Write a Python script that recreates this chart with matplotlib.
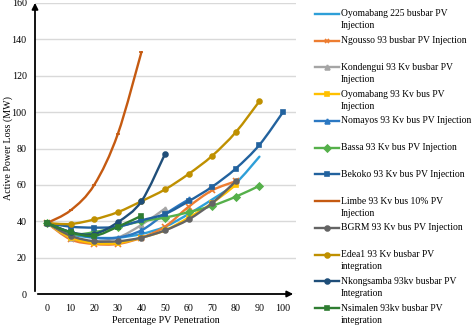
import numpy as np
import matplotlib
matplotlib.use('Agg')
import matplotlib.pyplot as plt
from matplotlib.path import Path
from matplotlib.patches import PathPatch
from matplotlib.lines import Line2D

plt.rcParams['font.family'] = ['Liberation Serif', 'DejaVu Serif']

# PV penetration levels (%)
pen = [0, 10, 20, 30, 40, 50, 60, 70, 80, 90, 100]

# active power loss (MW) per injection bus
oyomabang_225 = [39, 33, 31, 31, 33, 37, 44, 52, 61, 75.5]
ngousso = [39, 30, 27.5, 27.5, 31, 37, 48, 57, 62]
kondengui = [39, 31, 29, 31, 38, 47]
oyomabang_93 = [39, 31, 28, 28, 31, 35, 42, 50, 60]
nomayos = [39, 34, 31, 31, 35, 44, 52]
bassa = [39, 33, 34, 37, 40, 42, 45, 48.5, 53.5, 59.5]
bekoko = [39, 37, 36.5, 37, 40.5, 44, 51, 59, 69, 82, 100]
limbe = [39, 46, 60, 88, 133]
bgrm = [39, 32, 29, 29, 31, 35, 41, 50, 62]
edea1 = [39, 38.5, 41, 45, 51, 57.5, 66, 76, 89, 106]
nkongsamba = [39, 34, 33, 39.5, 51, 77]
nsimalen = [39, 34, 32, 37, 43]

series = [
    ("Oyomabang 225 busbar PV\nInjection", oyomabang_225, '#2E9FD8', None),
    ("Ngousso 93 busbar PV Injection", ngousso, '#ED7D31', 'x'),
    ("Kondengui 93 Kv busbar PV\nInjection", kondengui, '#A5A5A5', '^'),
    ("Oyomabang 93 Kv bus PV\nInjection", oyomabang_93, '#FFC000', 's'),
    ("Nomayos 93 Kv bus PV Injection", nomayos, '#2B78C2', '^'),
    ("Bassa 93 Kv bus PV Injection", bassa, '#55B04A', 'D'),
    ("Bekoko 93 Kv bus PV Injection", bekoko, '#22629E', 's'),
    ("Limbe 93 Kv bus 10% PV\nInjection", limbe, '#C55A11', '_'),
    ("BGRM 93 Kv bus PV Injection", bgrm, '#646464', 'o'),
    ("Edea1 93 Kv busbar PV\nintegration", edea1, '#BF9000', 'o'),
    ("Nkongsamba 93kv busbar PV\nIntegration", nkongsamba, '#1F4E79', 'o'),
    ("Nsimalen 93kv busbar PV\nintegration", nsimalen, '#2F7D32', 's'),
]

FS = 7.2


def smooth_path(xs, ys):
    # cubic bezier through every point, like a spreadsheet "smoothed line"
    pts = np.column_stack([xs, ys]).astype(float)
    n = len(pts)
    verts = [pts[0]]
    codes = [Path.MOVETO]
    for i in range(n - 1):
        p0 = pts[i - 1] if i > 0 else pts[i]
        p1, p2 = pts[i], pts[i + 1]
        p3 = pts[i + 2] if i + 2 < n else pts[i + 1]
        verts += [p1 + (p2 - p0) / 6, p2 - (p3 - p1) / 6, p2]
        codes += [Path.CURVE4] * 3
    return Path(verts, codes)


W, H = 474, 326
fig = plt.figure(figsize=(W / 100, H / 100), dpi=100)
ax = fig.add_axes([35 / W, (H - 294) / H, 261 / W, 291 / H])

ax.set_xlim(-5.1, 105.5)
ax.set_ylim(0, 160)
ax.set_yticks(range(0, 161, 20))
ax.set_xticks(pen)
ax.grid(axis='y', color='#D9D9D9', lw=1)
ax.set_axisbelow(True)
for s in ax.spines.values():
    s.set_visible(False)
ax.tick_params(length=0, labelsize=FS, pad=6)
ax.tick_params(axis='x', pad=7)

# axis lines with arrow heads
ax.annotate('', xy=(1, 0), xytext=(0, 0), xycoords='axes fraction',
            arrowprops=dict(arrowstyle='-|>', color='black', lw=1.3, mutation_scale=9))
ax.annotate('', xy=(0, 1.01), xytext=(0, 0), xycoords='axes fraction',
            arrowprops=dict(arrowstyle='-|>', color='black', lw=1.3, mutation_scale=9))

for k, (label, vals, color, mk) in enumerate(series):
    xs = pen[:len(vals)]
    ax.add_patch(PathPatch(smooth_path(xs, vals), fill=False, edgecolor=color,
                           lw=1.7, capstyle='round', joinstyle='round', zorder=3 + k))
    if mk:
        ax.plot(xs, vals, ls='none', marker=mk, color=color,
                ms=3.5 if mk != 'x' else 4, mew=1.2, zorder=3 + k)

ax.set_xlabel("Percentage PV Penetration", fontsize=FS)
ax.xaxis.set_label_coords(0.5, -0.075)
ax.set_ylabel("Active Power Loss (MW)", fontsize=FS)
ax.yaxis.set_label_coords(-0.085, 0.5)

# legend laid out to the right of the plot
x0, x1, xt = 315 / W, 339 / W, 341 / W
for k, (label, vals, color, mk) in enumerate(series):
    yp = 14 + 26.73 * k
    y = 1 - yp / H
    fig.add_artist(Line2D([x0, (x0 + x1) / 2, x1], [y, y, y], transform=fig.transFigure,
                          color=color, lw=1.7, marker=mk, markevery=[1], ms=3.5, mew=1.2))
    for j, line in enumerate(label.split('\n')):
        fig.text(xt, 1 - (yp + 12 * j) / H, line, fontsize=6.9, va='center', ha='left')

fig.savefig('out.png', dpi=100)
